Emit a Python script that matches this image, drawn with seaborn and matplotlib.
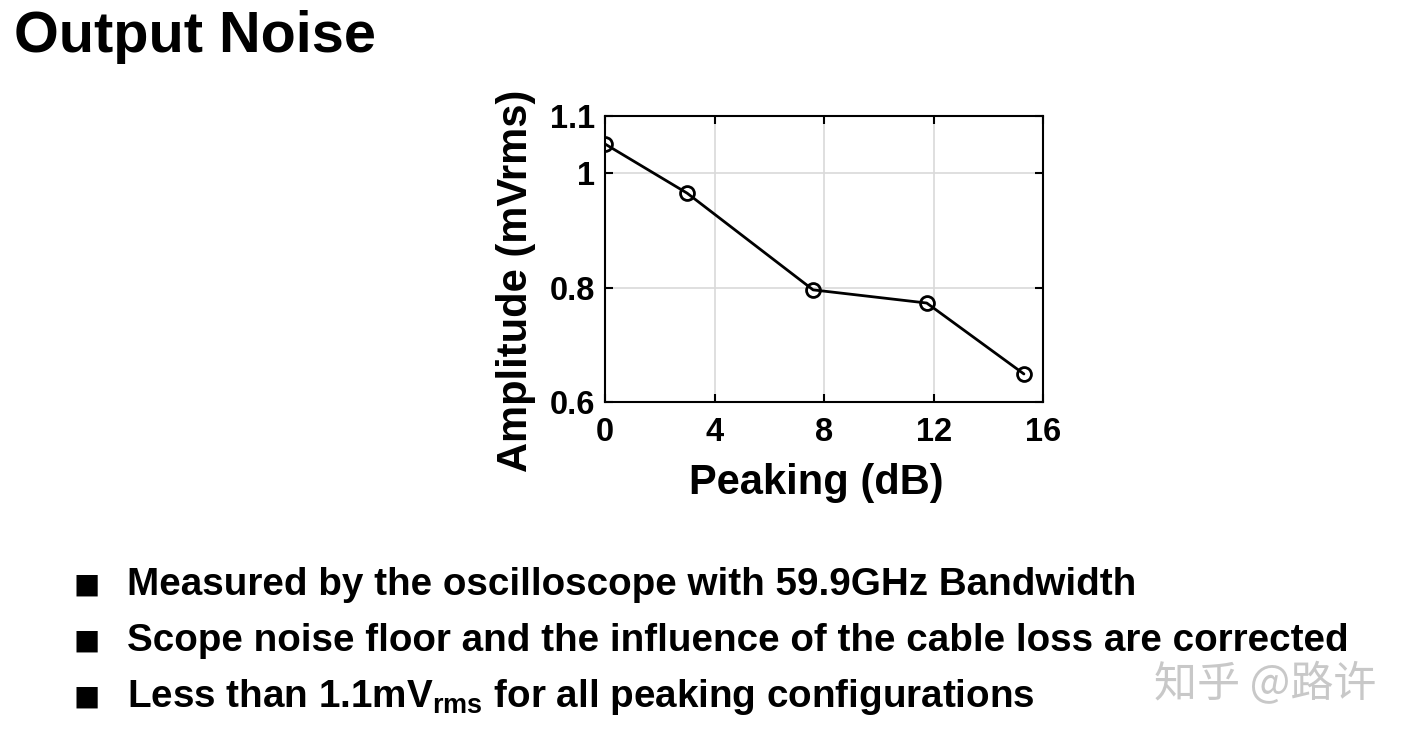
import matplotlib
matplotlib.use("Agg")
import matplotlib.pyplot as plt
import seaborn as sns
import pandas as pd

# values
peaking_db = [0.0, 3.0, 7.6, 11.75, 15.3]
noise_mvrms = [1.051, 0.965, 0.796, 0.773, 0.649]
xticks = [0, 4, 8, 12, 16]
yticks = [0.6, 0.8, 1.0, 1.1]
ytick_labels = ["0.6", "0.8", "1", "1.1"]
bullets = [
    "Measured by the oscilloscope with 59.9GHz Bandwidth",
    "Scope noise floor and the influence of the cable loss are corrected",
    "Less than 1.1mV$_{\\mathregular{rms}}$ for all peaking configurations",
]

sns.set_style("ticks")
plt.rcParams["font.family"] = ["Liberation Sans", "DejaVu Sans"]
plt.rcParams["text.color"] = "black"
plt.rcParams["axes.labelcolor"] = "black"
plt.rcParams["xtick.color"] = "black"
plt.rcParams["ytick.color"] = "black"

df = pd.DataFrame({"peaking": peaking_db, "noise": noise_mvrms})

fig = plt.figure(figsize=(14.13, 7.41), dpi=100)
ax = fig.add_axes([0.4282, 0.4575, 0.3100, 0.3860])

sns.lineplot(data=df, x="peaking", y="noise", ax=ax, color="black", lw=2.0,
             marker="o", markersize=10, markerfacecolor="none",
             markeredgecolor="black", markeredgewidth=2.0)

ax.set_xlim(0, 16)
ax.set_ylim(0.6, 1.1)
ax.set_xticks(xticks)
ax.set_yticks(yticks)
ax.set_yticklabels(ytick_labels)
ax.grid(True, color="#d9d9d9", lw=1.2)
ax.set_axisbelow(True)
for s in ax.spines.values():
    s.set_linewidth(1.5)
    s.set_color("black")
ax.tick_params(direction="in", length=6, width=1.5, top=True, right=True,
               labelsize=23.5)
ax.tick_params(axis="x", pad=11)
ax.tick_params(axis="y", pad=7)
for lab in ax.get_xticklabels() + ax.get_yticklabels():
    lab.set_fontweight("bold")
ax.set_xlabel("Peaking (dB)", fontsize=30, fontweight="bold")
ax.set_ylabel("Amplitude (mVrms)", fontsize=30, fontweight="bold")
ax.xaxis.set_label_coords(0.482, -0.215)
ax.yaxis.set_label_coords(-0.157, 0.423)

fig.text(0.010, 0.950, "Output Noise", fontsize=41.5, fontweight="bold",
         ha="left", va="center")

y0 = 741 - 585
for i, line in enumerate(bullets):
    yy = (y0 - i * 56) / 741
    fig.text(0.052, yy, "\u25A0", fontsize=20, ha="left", va="center",
             family=["DejaVu Sans"])
    fig.text(0.090, yy, line, fontsize=27.8, fontweight="bold", ha="left",
             va="center")

fig.text(0.817, 0.0756, "知乎 @路许", fontsize=31, color="#c8c8c8",
         ha="left", va="center", family=["Noto Sans CJK SC", "DejaVu Sans"])

fig.savefig("out.png", dpi=100)
